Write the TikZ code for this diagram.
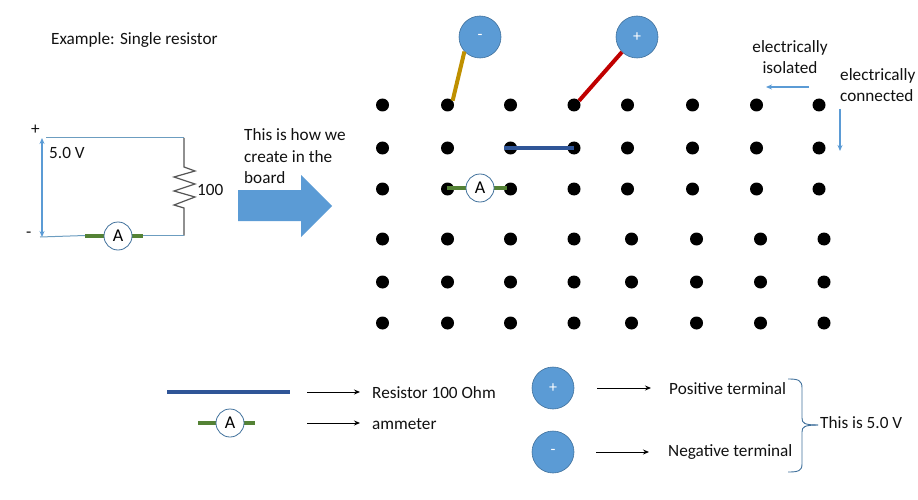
\documentclass[tikz,border=0pt]{standalone}
\usepackage{fontspec}
\setmainfont{Carlito}
\usetikzlibrary{arrows.meta}
\definecolor{accent}{HTML}{5B9BD5}
\definecolor{accentdark}{HTML}{41719C}
\definecolor{wireblue}{HTML}{2F5597}
\definecolor{wiregreen}{HTML}{548235}
\definecolor{wiregold}{HTML}{BF9000}
\definecolor{wirered}{HTML}{C00000}
\definecolor{wiregray}{HTML}{555555}
\definecolor{wirelight}{HTML}{6C9DC0}
\definecolor{textcol}{HTML}{111111}
\tikzset{
  x=1pt,y=-1pt,
  dot/.style={circle,fill=black,inner sep=0pt,minimum size=13pt},
  terminal/.style={circle,fill=accent,draw=accentdark,line width=0.6pt,inner sep=0pt,minimum size=42pt,text=white,font=\fontsize{16}{16}\selectfont},
  meter/.style={circle,fill=white,draw=accentdark,line width=0.8pt,inner sep=0pt,minimum size=28pt,text=black,font=\fontsize{18}{18}\selectfont},
  label/.style={anchor=base west,inner sep=0pt,text=textcol,font=\fontsize{17.2}{17.2}\selectfont},
  clabel/.style={anchor=base,inner sep=0pt,text=textcol,font=\fontsize{17.2}{17.2}\selectfont},
  thick wire/.style={line width=4pt},
  blueline/.style={draw=accent,line width=1.2pt,-{Stealth[length=6pt,width=5pt]}},
  blackline/.style={draw=black,line width=0.9pt,-{Stealth[length=6pt,width=5pt]}},
  circuitwire/.style={draw=wirelight,line width=1pt},
}
\begin{document}
\begin{tikzpicture}
\useasboundingbox (0,0) rectangle (918,500);
% board dots
\foreach \r/\y in {1/105,2/148,3/189}
  \foreach \c/\x in {1/382.5,2/447.5,3/510.5,4/574,5/627.5,6/692.5,7/756.5,8/819}
    \node[dot] (d\r\c) at (\x,\y) {};
\foreach \r/\y in {4/239,5/282,6/323}
  \foreach \c/\x in {1/382.5,2/447.5,3/510.5,4/574,5/631.5,6/696.5,7/760.5,8/824}
    \node[dot] (d\r\c) at (\x,\y) {};
% terminals on the board
\node[terminal] (tminus) at (480,37) {-};
\node[terminal] (tplus) at (637,37) {+};
\draw[thick wire,wiregold] (tminus.223) -- (d12.40);
\draw[thick wire,wirered] (tplus.225) -- (d14.40);
\draw[thick wire,wireblue] (d23.west) -- (d24.center);
\coordinate (bal) at (447,188);
\coordinate (bar) at (507,188);
\draw[thick wire,wiregreen] (bal) -- (bar);
\node[meter] (bam) at (480,188) {A};
% circuit
\coordinate (ctl) at (46,138);
\coordinate (ctr) at (184,138);
\coordinate (rtop) at (184,167);
\coordinate (rbot) at (184,208);
\coordinate (cbr) at (184,235.5);
\coordinate (cbl) at (40,237);
\coordinate (gl) at (85,235.5);
\coordinate (gr) at (143,235.5);
\coordinate (varrt) at (42,138);
\coordinate (varrb) at (42,237);
\draw[circuitwire] (ctl) -- (ctr);
\draw[wiregray,line width=1.2pt] (ctr) -- (rtop) -- (195,171) -- (174,177) -- (195,184) -- (174,191) -- (195,197) -- (174,205) -- (rbot) -- (cbr);
\draw[circuitwire] (cbr) -- (gr);
\draw[circuitwire] (cbl) -- (gl);
\draw[thick wire,wiregreen] (gl) -- (gr);
\node[meter] (cam) at (118,236) {A};
\draw[draw=accent,line width=1.2pt,{Stealth[length=6pt,width=5pt]}-{Stealth[length=6pt,width=5pt]}] (varrt) -- (varrb);
\node[label] at (31,135) {+};
\node[label] at (26,237) {-};
\node[label] at (49,158) {5.0 V};
\node[label] at (197,195) {100};
\node[label] at (51,45) {Example: Single resistor};
\node[label] at (244,140) {This is how we};
\node[label] at (244,162) {create in the};
\node[label] at (244,183) {board};
% big arrow
\fill[accent] (238,190) -- (301,190) -- (301,175) -- (332,206) -- (301,237) -- (301,221) -- (238,221) -- cycle;
% annotations
\node[clabel] at (790,53) {electrically};
\node[clabel] at (790,74) {isolated};
\node[label] at (840,81) {electrically};
\node[label] at (840,102) {connected};
\coordinate (ia) at (809,87);
\coordinate (ib) at (766,87);
\coordinate (ca) at (840,109);
\coordinate (cb) at (840,151);
\draw[blueline] (ia) -- (ib);
\draw[blueline] (ca) -- (cb);
% legend left
\coordinate (lrl) at (167,392);
\coordinate (lrr) at (290,392);
\draw[thick wire,wireblue] (lrl) -- (lrr);
\coordinate (lal) at (198,423);
\coordinate (lar) at (255,423);
\draw[thick wire,wiregreen] (lal) -- (lar);
\node[meter] (lam) at (230,423) {A};
\coordinate (a1s) at (307,392);
\coordinate (a1e) at (360,392);
\coordinate (a2s) at (307,423);
\coordinate (a2e) at (360,423);
\draw[blackline] (a1s) -- (a1e);
\draw[blackline] (a2s) -- (a2e);
\node[label] at (372,398) {Resistor 100 Ohm};
\node[label] at (372,429) {ammeter};
% legend right
\node[terminal] (lplus) at (553,388) {+};
\node[terminal] (lminus) at (553,452) {-};
\coordinate (a3s) at (597,388);
\coordinate (a3e) at (651,388);
\coordinate (a4s) at (596,452);
\coordinate (a4e) at (649,452);
\draw[blackline] (a3s) -- (a3e);
\draw[blackline] (a4s) -- (a4e);
\node[label] at (669,394) {Positive terminal};
\node[label] at (668,456) {Negative terminal};
\coordinate (b1) at (788,379);
\coordinate (b2) at (788,472);
\coordinate (btip) at (818,425);
\draw[accentdark,line width=0.9pt] (b1) .. controls (798,379) and (802,380) .. (802,388) -- (802,418) .. controls (802,423) and (804,425) .. (btip);
\draw[accentdark,line width=0.9pt] (btip) .. controls (804,425) and (802,427) .. (802,432) -- (802,464) .. controls (802,471) and (798,472) .. (b2);
\node[label] at (820,428) {This is 5.0 V};
\end{tikzpicture}
\end{document}
